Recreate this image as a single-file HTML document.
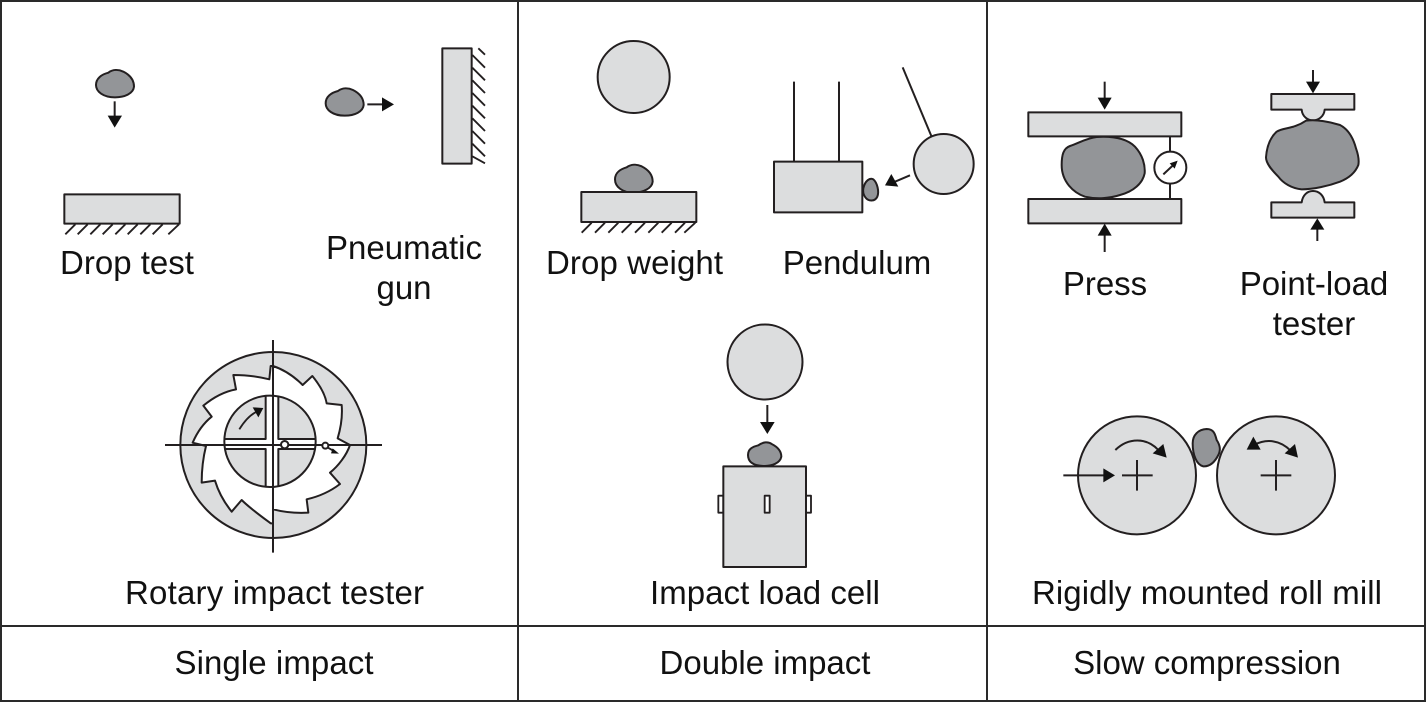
<!DOCTYPE html>
<html><head><meta charset="utf-8"><style>
html,body{margin:0;padding:0;background:#fff}
svg{display:block}
text{font-family:"Liberation Sans",Arial,sans-serif;font-size:33px;fill:#111;text-anchor:middle}
.z{stroke:#231f20;stroke-width:6;fill:none;stroke-linejoin:round}
.l{fill:#dcddde}.d{fill:#939598}.w{fill:#fff}
.k{fill:#111;stroke:none}
.t{stroke-width:5.5}
</style></head><body>
<svg width="1426" height="703" viewBox="0 0 1426 703" xmlns="http://www.w3.org/2000/svg">
<rect x="0" y="0" width="1426" height="703" fill="#fff"/>
<g stroke="#2a2a2a" fill="none" stroke-width="2">
<rect x="1" y="1" width="1424" height="700"/>
<line x1="518" y1="0" x2="518" y2="701"/>
<line x1="987" y1="0" x2="987" y2="701"/>
<line x1="0" y1="626" x2="1426" y2="626"/>
</g>

<!-- Single impact top -->
<g transform="translate(40 40) scale(.33333)">
<path class="z d" d="M168 135C168 115 185 103 205 98C218 88 235 88 250 95C270 105 282 120 282 140C280 160 255 172 225 172C190 172 168 155 168 135Z"/>
<line class="z" x1="224" y1="184" x2="224" y2="235"/>
<polygon class="k" points="203,227 246,227 224,263"/>
<path class="z d" transform="translate(689 55)" d="M168 135C168 115 185 103 205 98C218 88 235 88 250 95C270 105 282 120 282 140C280 160 255 172 225 172C190 172 168 155 168 135Z"/>
<line class="z" x1="982" y1="193" x2="1030" y2="193"/>
<polygon class="k" points="1026,172 1026,214 1062,193"/>
<rect class="z l" x="73" y="463" width="346" height="88"/>
<g class="z t">
<path d="M76 583L106 553M113 583L143 553M151 583L181 553M188 583L218 553M226 583L256 553M263 583L293 553M301 583L331 553M338 583L368 553M385 583L417 553"/>
<path d="M1315 25L1335 44M1297 45L1335 83M1297 83L1335 121M1297 121L1335 159M1297 159L1335 197M1297 197L1335 235M1297 235L1335 273M1297 273L1335 311M1297 311L1335 349M1297 349L1335 370"/>
</g>
<rect class="z l" x="1207" y="25" width="88" height="346"/>
</g>

<!-- Rotary -->
<g transform="translate(150 340) scale(.33333)">
<circle class="z l" cx="370" cy="315" r="279"/>
<path class="z w" d="M369 78C405 90 435 112 458 135L487 108C505 130 525 160 530 190L575 195C578 230 572 265 563 295L600 315C590 345 565 378 540 398L570 432C540 455 505 470 470 478L475 518C440 520 400 516 369 508Z"/>
<path class="z w" d="M369 78L362 78L358 118C320 108 285 105 250 105L258 148C220 155 190 172 160 197L185 230C160 250 140 280 128 308L168 318C160 350 155 390 155 428L195 422C205 455 225 490 245 515L275 480C300 505 335 530 362 550L369 550Z"/>
<circle class="l" cx="360" cy="304" r="137"/>
<g fill="#fff" stroke="none">
<rect x="347" y="167" width="38" height="274"/>
<rect x="223" y="297" width="274" height="30"/>
</g>
<circle class="z" cx="360" cy="304" r="137"/>
<g class="z">
<path d="M347 168V297H224M385 168V297H497M347 440V327H224M385 440V327H497"/>
<line x1="45" y1="315" x2="696" y2="315"/>
<line x1="369" y1="0" x2="369" y2="638"/>
<circle class="w" cx="404" cy="314" r="11"/>
<circle class="w" cx="526" cy="317" r="9"/>
<path class="t" d="M268 268C285 240 300 225 320 215"/>
<line class="t" x1="534" y1="323" x2="555" y2="335"/>
</g>
<polygon class="k" points="308,202 340,204 325,232"/>
<polygon class="k" points="548,325 567,341 543,340"/>
</g>

<!-- Drop weight -->
<g transform="translate(540 30) scale(.33333)">
<circle class="z l" cx="281" cy="141" r="108"/>
<path class="z d" d="M225 448C225 428 242 417 260 412C273 402 290 402 305 409C325 419 338 435 338 455C336 475 310 488 280 488C247 488 225 470 225 448Z"/>
<rect class="z l" x="124" y="486" width="345" height="90"/>
<path class="z t" d="M125 608L155 578M165 608L195 578M205 608L235 578M245 608L275 578M285 608L315 578M325 608L355 578M365 608L395 578M405 608L435 578M433 608L466 578"/>
</g>

<!-- Pendulum -->
<g transform="translate(760 60) scale(.33333)">
<g class="z">
<line x1="102" y1="65" x2="102" y2="305"/>
<line x1="237" y1="65" x2="237" y2="305"/>
<line x1="428" y1="22" x2="514" y2="228"/>
<rect class="l" x="42" y="305" width="265" height="152"/>
<path class="d" d="M310 385C315 362 330 352 340 358C352 368 358 395 352 410C345 425 325 425 316 412C310 404 308 395 310 385Z"/>
<circle class="l" cx="551" cy="312" r="90"/>
<line x1="450" y1="346" x2="405" y2="365"/>
</g>
<polygon class="k" points="375,376 394,342 415,380"/>
</g>

<!-- Impact load cell -->
<circle class="z l" style="stroke-width:2" cx="765" cy="362" r="37.5"/>
<g transform="translate(700 400) scale(.33333)">
<line class="z" x1="202" y1="15" x2="202" y2="70"/>
<polygon class="k" points="180,66 224,66 202,102"/>
<g class="z t">
<rect class="w" x="55" y="287" width="15" height="51"/>
<rect class="w" x="318" y="287" width="15" height="51"/>
</g>
<path class="z d" d="M144 165C144 145 160 140 175 136C188 126 205 124 215 132C235 142 244 155 244 170C240 190 215 198 195 198C165 198 144 190 144 165Z"/>
<rect class="z l" x="70" y="199" width="248" height="302"/>
<rect class="z w t" x="194" y="287" width="15" height="51"/>
</g>

<!-- Press and point load -->
<g transform="translate(1020 70) scale(.33333)">
<line class="z" x1="254" y1="35" x2="254" y2="85"/>
<polygon class="k" points="233,83 275,83 254,119"/>
<line class="z" x1="254" y1="495" x2="254" y2="546"/>
<polygon class="k" points="233,497 275,497 254,461"/>
<line class="z" x1="450" y1="199" x2="450" y2="387"/>
<path class="z d" d="M125 285C125 255 130 235 150 228C175 220 200 204 230 201C280 198 320 205 345 230C368 255 376 285 374 310C368 340 340 365 300 375C270 385 230 388 195 380C160 368 125 335 125 285Z"/>
<rect class="z l" x="25" y="127" width="459" height="72"/>
<rect class="z l" x="25" y="387" width="459" height="73"/>
<circle class="z w" cx="451" cy="293" r="48"/>
<line class="z" x1="430" y1="313" x2="458" y2="287"/>
<polygon class="k" points="473,272 464,296 449,280"/>

<line class="z" x1="879" y1="0" x2="879" y2="40"/>
<polygon class="k" points="858,35 900,35 879,70"/>
<line class="z" x1="892" y1="470" x2="892" y2="513"/>
<polygon class="k" points="871,479 913,479 892,445"/>
<path class="z l" d="M754 72H1003V119H914C912 140 895 151 879 151C863 151 847 140 845 119H754Z"/>
<path class="z l" d="M754 397H845C848 375 862 363 879 363C896 363 911 375 914 397H1003V443H754Z"/>
<path class="z d" d="M858 152C890 148 930 155 960 165C985 178 1000 205 1008 235C1015 255 1018 270 1015 285C1005 310 985 325 960 335C925 348 880 358 845 358C815 355 790 340 775 320C755 300 738 280 738 262C740 235 748 205 770 185C790 172 820 178 858 152Z"/>
</g>

<!-- Roll mill -->
<g transform="translate(1050 400) scale(.33333)">
<circle class="z l" cx="261" cy="226" r="177"/>
<circle class="z l" cx="678" cy="226" r="177"/>
<path class="z d" d="M428 130C428 105 445 88 470 87C490 87 495 100 500 120C510 135 513 150 505 165C495 185 480 200 460 199C440 195 428 165 428 130Z"/>
<g class="z">
<path d="M216 226H308M261 180V272M632 226H724M678 180V272"/>
<line x1="40" y1="226" x2="165" y2="226"/>
<path d="M196 150C235 112 290 112 325 150"/>
<path d="M612 135C650 115 690 120 722 152"/>
</g>
<polygon class="k" points="160,205 195,226 160,247"/>
<polygon class="k" points="350,173 308,160 340,132"/>
<polygon class="k" points="590,149 632,149 610,110"/>
<polygon class="k" points="744,173 704,160 735,132"/>
</g>

<!-- Labels -->
<text x="127" y="274">Drop test</text>
<text x="404" y="259">Pneumatic</text>
<text x="404" y="299">gun</text>
<text x="634.5" y="274" textLength="177">Drop weight</text>
<text x="857" y="274">Pendulum</text>
<text x="1105" y="295">Press</text>
<text x="1314" y="295">Point-load</text>
<text x="1314" y="335">tester</text>
<text x="274.5" y="604" textLength="299">Rotary impact tester</text>
<text x="765" y="604" textLength="230">Impact load cell</text>
<text x="1207" y="604" textLength="350">Rigidly mounted roll mill</text>
<text x="274" y="674" textLength="199">Single impact</text>
<text x="765" y="674">Double impact</text>
<text x="1207" y="674">Slow compression</text>
</svg>
</body></html>
